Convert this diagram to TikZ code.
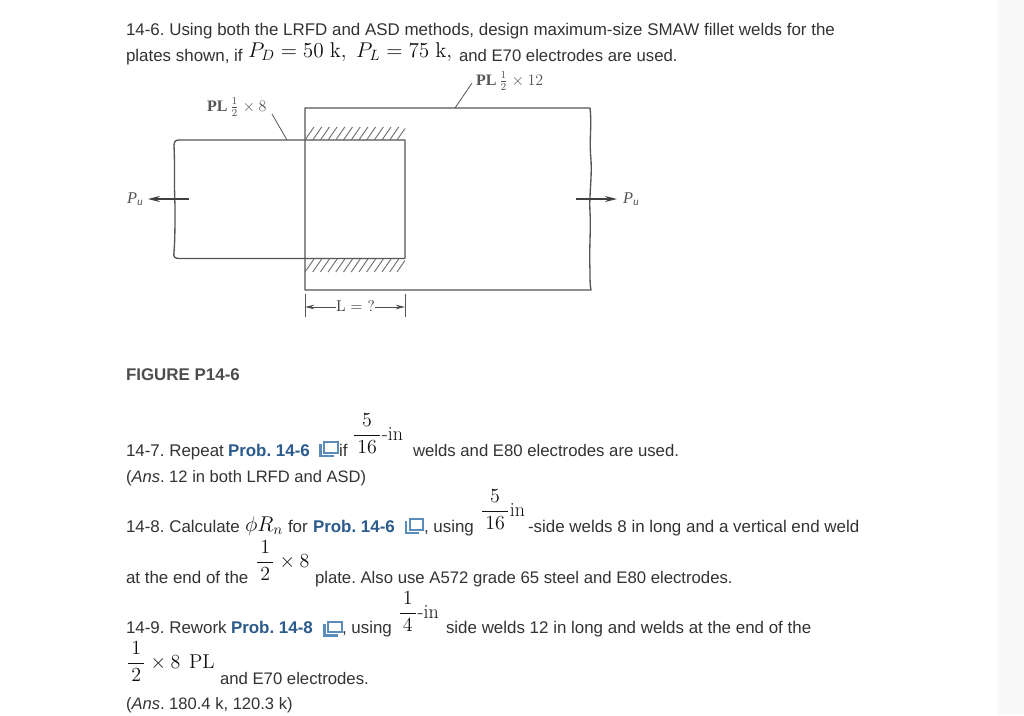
\RequirePackage{fix-cm}
\documentclass[tikz,border=0pt]{standalone}
\usepackage[no-math]{fontspec}
\setmainfont{Liberation Sans}
\newfontfamily\timesf{Liberation Serif}
\usetikzlibrary{arrows.meta,calc}
\frenchspacing
\definecolor{textc}{HTML}{333333}
\definecolor{mathc}{HTML}{111111}
\definecolor{linkc}{HTML}{2B5B8C}
\definecolor{iconc}{HTML}{5B8DBB}
\definecolor{linec}{HTML}{555555}
\definecolor{hatchc}{HTML}{707070}
\definecolor{stripc}{HTML}{F9F9F9}
\definecolor{figc}{HTML}{4D4D4D}
\newcommand{\mathsz}{\fontsize{15}{18}\selectfont}
\newcommand{\cmr}[1]{{\fontfamily{lmr}\selectfont #1}}
\newcommand{\copyicon}[2]{%
  \draw[iconc,line width=1.5pt,line join=miter] ($(#1,#2)+(4.5,-14)$) rectangle ($(#1,#2)+(18,-3.5)$);
  \draw[iconc,line width=1.8pt] ($(#1,#2)+(1,-12)$) -- ($(#1,#2)+(1,0)$) -- ($(#1,#2)+(14,0)$);
}
\tikzset{
  x=0.75pt,y=-0.75pt,
  txt/.style={anchor=base west,inner sep=0pt,outer sep=0pt,text=textc,font=\fontsize{12.7}{15}\selectfont},
  txtn/.style={txt,font=\fontsize{12.55}{15}\selectfont},
  txtnn/.style={txt,font=\fontsize{12.42}{15}\selectfont},
  lnk/.style={txt,text=linkc,font=\fontsize{12.7}{15}\selectfont\bfseries},
  mth/.style={anchor=base west,inner sep=0pt,outer sep=0pt,text=mathc,font=\mathsz},
  mthbig/.style={mth,font=\fontsize{16}{19}\selectfont},
  plate/.style={draw=linec,line width=1pt,line join=round},
  hatch/.style={draw=hatchc,line width=0.7pt},
  lead/.style={draw=linec,line width=0.6pt},
  force/.style={draw=black!75,line width=1pt,-{Stealth[length=9pt,width=4.5pt]}},
  dimn/.style={draw=black!70,line width=0.6pt,-{Stealth[length=7pt,width=3.4pt]}},
  tick/.style={draw=linec,line width=0.6pt},
  fig/.style={anchor=base west,inner sep=0pt,outer sep=0pt,text=linec,font=\fontsize{12}{14}\selectfont\timesf},
  figit/.style={fig,font=\fontsize{12.3}{14}\selectfont\timesf\itshape},
}
\begin{document}
\begin{tikzpicture}
\useasboundingbox (0,0) rectangle (1024,715);
\fill[white] (0,0) rectangle (1024,715);
\fill[stripc] (998,0) rectangle (1024,715);

% problem 14-6
\node[txt] (l1) at (126,35) {14-6. Using both the LRFD and ASD methods, design maximum-size SMAW fillet welds for the};
\node[txt] (l2a) at (126,61) {plates shown, if};
\node[mthbig] (l2m) at (248,57) {$P_D = 50\ \mathrm{k},\ P_L = 75\ \mathrm{k},$};
\node[txtn] (l2b) at (459,61) {and E70 electrodes are used.};

% plates
\draw[plate] (305,108) -- (590,108)
  .. controls (592,125) and (589,140) .. (591,160)
  .. controls (592,180) and (589,195) .. (590,212)
  .. controls (591,230) and (589,250) .. (590,270)
  .. controls (590,280) and (590,285) .. (591,290)
  -- (305,290) -- cycle;
\draw[plate] (405,258.5) -- (405,140) -- (179,140)
  .. controls (175,140) and (174,142) .. (174,146)
  .. controls (175,165) and (174,185) .. (175,205)
  .. controls (175,225) and (175,240) .. (174,252)
  .. controls (173,257) and (175,258.5) .. (179,258.5)
  -- (405,258.5);
% weld hatching
\foreach \xx in {305,312.7,...,390} {
  \draw[hatch] (\xx,140) -- ({\xx+9},127);
  \draw[hatch] (\xx,272) -- ({\xx+9},259);
}
\draw[hatch] (397,140) -- (405,128.5);
\draw[hatch] (397,272) -- (405,260.5);

% plate labels and leaders
\node[fig] (pl8) at (207,111) {\textbf{PL}\,$\frac{1}{2}\times 8$};
\node[fig] (pl12) at (476,85) {\textbf{PL}\,$\frac{1}{2}\times 12$};
\coordinate (pl8end) at (287,140);
\coordinate (pl12end) at (455,108);
\coordinate (pl8start) at (272,114);
\coordinate (pl12start) at (472,83);
\draw[lead] (pl8start) -- (pl8end);
\draw[lead] (pl12start) -- (pl12end);

% forces
\node[figit] (pl) at (127,203) {P\textsubscript{u}};
\node[figit] (pr) at (623,203) {P\textsubscript{u}};
\coordinate (fl) at (189,199);
\coordinate (fr) at (576,199);
\coordinate (fltip) at (148,199);
\coordinate (frtip) at (617,199);
\draw[force] (fl) -- (fltip);
\draw[force] (fr) -- (frtip);

% dimension
\coordinate (da) at (305,307);
\coordinate (db) at (405,307);
\node[anchor=base,inner sep=0pt,text=black!80,font=\fontsize{11.7}{14}\selectfont\fontfamily{lmr}\selectfont] (dim) at (355.5,311) {L = ?};
\draw[tick] (305,294) -- (305,317);
\draw[tick] (405,294) -- (405,317);
\draw[dimn] (dim.west |- da) -- (da);
\draw[dimn] (dim.east |- db) -- (db);

\node[txt,text=figc,font=\fontsize{12.7}{15}\selectfont\bfseries] (figl) at (126,380) {FIGURE P14-6};

% 14-7
\node[txt] (a1) at (126,456) {14-7. Repeat};
\node[lnk] (a2) at (228,456) {Prob. 14-6};
\copyicon{319.5}{456}
\node[txt] (a3) at (339,456) {if};
\node[mth] (a4) at (352.4,440) {$\displaystyle\frac{\,5\,}{\,16\,}$\cmr{-in}};
\node[txtn] (a5) at (413,456) {welds and E80 electrodes are used.};
\node[txtnn] (a6) at (126,482) {(\textit{Ans}. 12 in both LRFD and ASD)};

% 14-8
\node[txt] (b1) at (126,532) {14-8. Calculate};
\node[mthbig] (b2) at (245,531) {$\phi R_n$};
\node[txt] (b3) at (288,532) {for};
\node[lnk] (b4) at (313,532) {Prob. 14-6};
\copyicon{405}{533}
\node[txt] (b5) at (424,532) {, using};
\node[mth] (b6) at (480.4,516) {$\displaystyle\frac{\,5\,}{\,16\,}$\cmr{in}};
\node[txt] (b7) at (528,532) {-side welds 8 in long and a vertical end weld};
\node[txt] (c1) at (126,583) {at the end of the};
\node[mth] (c2) at (255.4,567) {$\displaystyle\frac{\,1\,}{\,2\,}\times 8$};
\node[txtn] (c3) at (315,583) {plate. Also use A572 grade 65 steel and E80 electrodes.};

% 14-9
\node[txt] (d1) at (126,633) {14-9. Rework};
\node[lnk] (d2) at (231,633) {Prob. 14-8};
\copyicon{323.5}{635.5}
\node[txt] (d3) at (342,633) {, using};
\node[mth] (d4) at (398,618) {$\displaystyle\frac{\,1\,}{\,4\,}$\cmr{-in}};
\node[txt] (d5) at (446,633) {side welds 12 in long and welds at the end of the};
\node[mth] (e1) at (126.4,668) {$\displaystyle\frac{\,1\,}{\,2\,}\times 8\ \,\mathrm{PL}$};
\node[txtn] (e2) at (220,684) {and E70 electrodes.};
\node[txtnn] (f1) at (126,709) {(\textit{Ans}. 180.4 k, 120.3 k)};
\end{tikzpicture}
\end{document}
